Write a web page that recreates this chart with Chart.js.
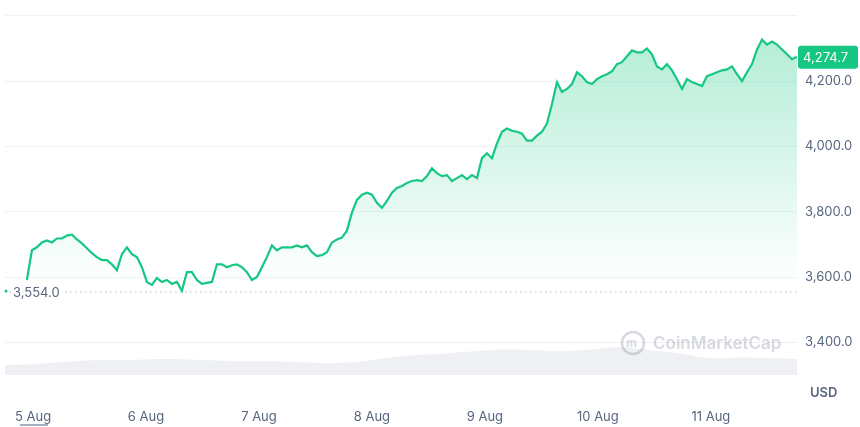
<!DOCTYPE html>
<html>
<head>
<meta charset="utf-8">
<script src="https://cdn.jsdelivr.net/npm/chart.js@4"></script>
<style>
  html, body { margin: 0; padding: 0; background: #fff; }
  #wrap { position: relative; width: 860px; height: 427px; }
</style>
</head>
<body>
<div id="wrap"><canvas id="c" width="860" height="427"></canvas></div>
<script>
// hours from 5 Aug 00:00
const axisStart = -5.95;
const startHour = -1.3;
const endHour = 162.3;

const prices = [3591, 3682, 3691, 3706, 3712, 3706, 3718, 3718, 3727, 3730, 3715, 3703, 3688, 3673, 3661, 3652,
  3652, 3639, 3621, 3670, 3691, 3670, 3661, 3630, 3585, 3576, 3597, 3585, 3591, 3579, 3585, 3558, 3615, 3615,
  3591, 3579, 3582, 3585, 3639, 3639, 3630, 3636, 3639, 3630, 3615, 3591, 3600, 3630, 3661, 3697, 3682, 3691,
  3691, 3691, 3697, 3691, 3697, 3676, 3664, 3667, 3676, 3706, 3715, 3721, 3742, 3797, 3836, 3852, 3858, 3852,
  3827, 3812, 3833, 3858, 3873, 3879, 3888, 3894, 3897, 3894, 3909, 3933, 3918, 3909, 3912, 3894, 3903, 3912,
  3900, 3912, 3903, 3964, 3979, 3964, 4009, 4045, 4055, 4048, 4045, 4039, 4018, 4018, 4033, 4045, 4070, 4130,
  4197, 4167, 4176, 4191, 4227, 4215, 4197, 4191, 4206, 4215, 4221, 4230, 4252, 4258, 4276, 4294, 4288, 4288,
  4300, 4282, 4245, 4236, 4252, 4233, 4206, 4176, 4206, 4197, 4191, 4185, 4215, 4221, 4227, 4233, 4236, 4245,
  4221, 4200, 4227, 4252, 4297, 4327, 4312, 4321, 4312, 4297, 4282, 4267, 4274.7];

const volumes = [2.7, 3.0, 3.6, 4.1, 4.1, 4.4, 4.4, 4.1, 3.8, 3.8, 3.6, 3.3, 3.6, 4.7, 5.5, 6.0, 6.6, 7.1, 6.9,
  6.6, 7.1, 7.7, 6.9, 6.0, 4.7, 4.9, 4.7, 4.4];

const dayLabels = ['5 Aug', '6 Aug', '7 Aug', '8 Aug', '9 Aug', '10 Aug', '11 Aug'];
const yTicks = [3400, 3600, 3800, 4000, 4200, 4400];
const openPrice = 3554.0;
const lastPrice = 4274.7;

const green = '#16c784';
const fmt = v => v.toLocaleString('en-US', { minimumFractionDigits: 1, maximumFractionDigits: 1 });

function spread(arr, from) {
  const step = (endHour - from) / (arr.length - 1);
  return arr.map((v, i) => ({ x: from + i * step, y: v }));
}

const extras = {
  id: 'extras',
  afterDatasetsDraw(ch) {
    const { ctx, chartArea: a, scales: { y } } = ch;
    ctx.save();
    // dotted open line
    const yo = y.getPixelForValue(openPrice);
    ctx.strokeStyle = '#b8bcc6';
    ctx.lineWidth = 1;
    ctx.setLineDash([1.5, 3.5]);
    ctx.beginPath(); ctx.moveTo(a.left, yo); ctx.lineTo(a.right, yo); ctx.stroke();
    ctx.setLineDash([]);
    ctx.font = '13px Inter, "Noto Sans", sans-serif';
    ctx.textBaseline = 'middle';
    const t = fmt(openPrice);
    const w = ctx.measureText(t).width;
    ctx.fillStyle = '#fff';
    ctx.fillRect(a.left + 6, yo - 8, w + 6, 16);
    ctx.fillStyle = '#58667e';
    ctx.fillText(t, a.left + 8, yo + 1);
    ctx.fillStyle = green;
    ctx.beginPath(); ctx.arc(a.left + 1, yo - 1, 1.5, 0, Math.PI * 2); ctx.fill();
    // last price badge
    const yl = y.getPixelForValue(lastPrice);
    ctx.fillStyle = green;
    ctx.beginPath(); ctx.roundRect(a.right + 1, yl - 11, 60, 23, 3); ctx.fill();
    ctx.fillStyle = '#fff';
    ctx.fillText(fmt(lastPrice), a.right + 6, yl + 1);
    // watermark
    ctx.globalAlpha = 0.35;
    ctx.strokeStyle = '#8a93a6'; ctx.lineWidth = 2.5;
    ctx.beginPath(); ctx.arc(633, 343, 11, 0, Math.PI * 2); ctx.stroke();
    ctx.font = 'bold 12px Inter, sans-serif';
    ctx.fillStyle = '#8a93a6';
    ctx.fillText('m', 626, 343);
    ctx.font = '600 17px Inter, "Noto Sans", sans-serif';
    ctx.fillText('CoinMarketCap', 653, 344);
    ctx.globalAlpha = 1;
    // USD label
    ctx.font = '600 13px Inter, "Noto Sans", sans-serif';
    ctx.fillStyle = '#58667e';
    ctx.fillText('USD', a.right + 13, 393);
    // small underline under first label
    ctx.fillStyle = '#a6b0c3';
    ctx.fillRect(20, 424, 28, 2);
    ctx.restore();
  }
};

new Chart(document.getElementById('c'), {
  type: 'line',
  data: {
    datasets: [{
      data: spread(prices, startHour),
      borderColor: green,
      borderWidth: 2.2,
      pointRadius: 0,
      tension: 0,
      fill: 'start',
      backgroundColor: (c) => {
        const a = c.chart.chartArea;
        if (!a) return 'rgba(22,199,132,0.2)';
        const g = c.chart.ctx.createLinearGradient(0, a.top, 0, a.bottom);
        g.addColorStop(0, 'rgba(22,199,132,0.35)');
        g.addColorStop(0.75, 'rgba(22,199,132,0.0)');
        return g;
      },
      yAxisID: 'y',
      order: 1
    }, {
      data: spread(volumes, axisStart),
      borderColor: 'rgba(0,0,0,0)',
      pointRadius: 0,
      tension: 0.3,
      fill: 'start',
      backgroundColor: '#eef0f3',
      yAxisID: 'v',
      order: 2
    }]
  },
  options: {
    responsive: false,
    animation: false,
    layout: { autoPadding: false, padding: { left: 5, top: 11, bottom: 0, right: 0 } },
    plugins: { legend: { display: false }, tooltip: { enabled: false } },
    scales: {
      x: {
        type: 'linear',
        min: axisStart,
        max: endHour,
        afterBuildTicks: s => { s.ticks = dayLabels.map((_, i) => ({ value: i * 24 })); },
        afterFit: s => { s.height = 52; s.paddingLeft = 0; s.paddingRight = 0; },
        ticks: {
          callback: (v) => dayLabels[Math.round(v / 24)],
          color: '#58667e', font: { size: 13, family: 'Inter, "Noto Sans", sans-serif' },
          padding: 26, maxRotation: 0
        },
        grid: { display: false },
        border: { display: false }
      },
      y: {
        position: 'right',
        min: 3300,
        max: 4400,
        afterBuildTicks: s => { s.ticks = yTicks.map(v => ({ value: v })); },
        afterFit: s => { s.width = 63; },
        ticks: {
          callback: v => v === 4400 ? '' : fmt(v),
          color: '#58667e', font: { size: 13, family: 'Inter, "Noto Sans", sans-serif' },
          padding: 8
        },
        grid: { color: '#eff2f5', drawTicks: false },
        border: { display: false }
      },
      v: { display: false, min: 0, max: 100 }
    }
  },
  plugins: [extras]
});
</script>
</body>
</html>
